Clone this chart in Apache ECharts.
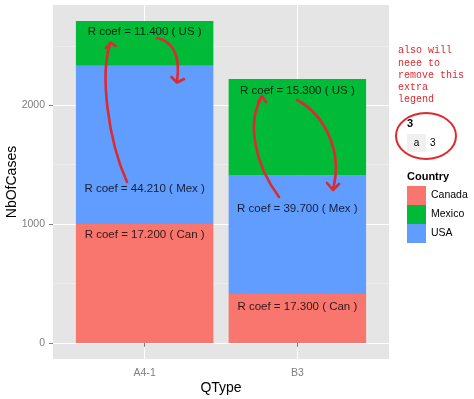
<!DOCTYPE html>
<html>
<head>
<meta charset="utf-8">
<script src="https://cdn.jsdelivr.net/npm/echarts@6/dist/echarts.min.js"></script>
<style>
html, body { margin: 0; padding: 0; background: #fff; }
#main { width: 474px; height: 399px; }
</style>
</head>
<body>
<div id="main"></div>
<script>
var qtypes = ['A4-1', 'B3'];
var countries = ['Canada', 'Mexico', 'USA'];
// NbOfCases per QType
var canada = [1000, 412];
var usa = [1333, 996];
var mexico = [375, 813];
var yTicks = [0, 1000, 2000];
var yMinor = [500, 1500, 2500];
// R coef labels and the y where ggplot put them
var coefCan = ['17.200', '17.300'];
var coefMex = ['44.210', '39.700'];
var coefUs = ['11.400', '15.300'];
var posCan = [910, 307];
var posMex = [1297, 1127];
var posUs = [2614, 2122];

var colors = ['#F8766D', '#00BA38', '#619CFF']; // Canada, Mexico, USA
var red = '#dd2a2f';
var grey = '#7F7F7F';
var font = '"Liberation Sans", Arial, sans-serif';

var chart = echarts.init(document.getElementById('main'));

var xPos = qtypes.map(function (q, i) { return i + 1; });
// value first so the stack is done on y, not on x
function pts(vals) {
    return vals.map(function (v, i) { return [v, i + 1]; });
}

// ggplot pads 5% of the stack height on both ends
var stackTop = 0;
for (var i = 0; i < qtypes.length; i++) {
    stackTop = Math.max(stackTop, canada[i] + usa[i] + mexico[i]);
}
var pad = stackTop * 0.05;

var labels = [];
for (var j = 0; j < qtypes.length; j++) {
    labels.push({ value: [j + 1, posUs[j]], name: 'R coef = ' + coefUs[j] + ' ( US )' });
    labels.push({ value: [j + 1, posMex[j]], name: 'R coef = ' + coefMex[j] + ' ( Mex )' });
    labels.push({ value: [j + 1, posCan[j]], name: 'R coef = ' + coefCan[j] + ' ( Can )' });
}

function barSeries(name, vals, color) {
    return {
        name: name,
        type: 'bar',
        stack: 'total',
        barWidth: '90%',
        data: pts(vals),
        encode: { x: 1, y: 0 },
        itemStyle: { color: color },
        silent: true
    };
}

function arrow(x1, y1, cpx1, cpy1, cpx2, cpy2, x2, y2, head) {
    return [{
        type: 'bezierCurve',
        shape: { x1: x1, y1: y1, cpx1: cpx1, cpy1: cpy1, cpx2: cpx2, cpy2: cpy2, x2: x2, y2: y2 },
        style: { stroke: red, lineWidth: 2.6, fill: 'none', lineCap: 'round' },
        z: 100
    }, {
        type: 'polyline',
        shape: { points: head },
        style: { stroke: red, lineWidth: 2.6, fill: 'none', lineCap: 'round', lineJoin: 'round' },
        z: 100
    }];
}

var graphics = [
    {
        type: 'text', x: 407, y: 177, z: 100,
        style: { text: 'Country', font: 'bold 11px ' + font, fill: '#000', verticalAlign: 'middle' }
    },
    // the stray "3" legend
    {
        type: 'text', x: 407, y: 124, z: 100,
        style: { text: '3', font: 'bold 11px ' + font, fill: '#000', verticalAlign: 'middle' }
    },
    {
        type: 'rect', shape: { x: 407, y: 134, width: 19, height: 18 }, z: 100,
        style: { fill: '#F0F0F0' }
    },
    {
        type: 'text', x: 416.5, y: 143, z: 101,
        style: { text: 'a', font: '10px ' + font, fill: '#000', align: 'center', verticalAlign: 'middle' }
    },
    {
        type: 'text', x: 430, y: 143, z: 100,
        style: { text: '3', font: '10px ' + font, fill: '#000', verticalAlign: 'middle' }
    },
    // red notes
    {
        type: 'text', x: 398, y: 44.5, z: 100,
        style: {
            text: 'also will\nneee to\nremove this\nextra\nlegend',
            font: '10px "Liberation Mono", "Courier New", monospace',
            lineHeight: 12.3, fill: red, verticalAlign: 'top'
        }
    },
    {
        type: 'ellipse', shape: { cx: 426, cy: 136, rx: 30, ry: 23 }, z: 100,
        style: { fill: 'none', stroke: red, lineWidth: 2 }
    }
].concat(
    arrow(127, 182, 108, 140, 100, 75, 110, 44, [[106, 48], [110.5, 42.5], [115.5, 46]]),
    arrow(157, 38, 172, 41, 181, 55, 177, 81, [[171.5, 77], [177, 82.5], [184, 79]]),
    arrow(279, 197, 255, 165, 246, 122, 262, 97, [[258, 102], [262, 96], [266, 102]]),
    arrow(297, 100, 325, 115, 343, 152, 333, 189, [[327, 183], [333, 190], [339, 184]])
);

var option = {
    animation: false,
    backgroundColor: '#fff',
    textStyle: { fontFamily: font },
    grid: {
        left: 53, right: 85, top: 5, bottom: 40,
        outerBoundsMode: 'none',
        containLabel: false,
        show: true, backgroundColor: '#E5E5E5', borderWidth: 0
    },
    legend: {
        data: countries,
        orient: 'vertical',
        left: 407, top: 186,
        padding: 0,
        itemWidth: 19, itemHeight: 19, itemGap: 0,
        icon: 'rect',
        selectedMode: false,
        textStyle: { fontSize: 10.5, color: '#000', fontFamily: font }
    },
    xAxis: {
        type: 'value',
        min: 0.4, max: qtypes.length + 0.6,
        name: 'QType',
        nameLocation: 'middle',
        nameGap: 22,
        nameMoveOverlap: false,
        nameTextStyle: { fontSize: 14, color: '#000' },
        axisLine: { show: false },
        axisTick: { customValues: xPos, length: 4, lineStyle: { color: grey } },
        axisLabel: {
            customValues: xPos,
            color: grey, fontSize: 10.5, margin: 9,
            formatter: function (v) { return qtypes[Math.round(v) - 1]; }
        },
        splitLine: { show: true, lineStyle: { color: '#fff', width: 1 } }
    },
    yAxis: [{
        type: 'value',
        min: -pad, max: stackTop + pad,
        name: 'NbOfCases',
        nameLocation: 'middle',
        nameGap: 34,
        nameMoveOverlap: false,
        nameTextStyle: { fontSize: 14, color: '#000' },
        axisLine: { show: false },
        axisTick: { show: true, customValues: yTicks, length: 4, lineStyle: { color: grey } },
        axisLabel: {
            customValues: yTicks, color: grey, fontSize: 10.5, margin: 8,
            formatter: function (v) { return String(v); }
        },
        splitLine: { show: true, lineStyle: { color: '#fff', width: 1 } }
    }, {
        type: 'value',
        min: -pad, max: stackTop + pad,
        axisLine: { show: false },
        axisTick: { show: false, customValues: yMinor },
        axisLabel: { show: false, customValues: yMinor },
        splitLine: { show: true, lineStyle: { color: '#F2F2F2', width: 0.6 } }
    }],
    series: [
        barSeries('Canada', canada, colors[0]),
        barSeries('USA', usa, colors[2]),
        barSeries('Mexico', mexico, colors[1]),
        {
            type: 'scatter',
            data: labels,
            symbolSize: 1,
            itemStyle: { color: 'transparent' },
            silent: true,
            z: 5,
            label: {
                show: true,
                position: 'inside',
                formatter: function (p) { return p.name; },
                fontSize: 11.5,
                color: '#000',
                fontFamily: font
            }
        }
    ],
    graphic: graphics
};

chart.setOption(option);
</script>
</body>
</html>
